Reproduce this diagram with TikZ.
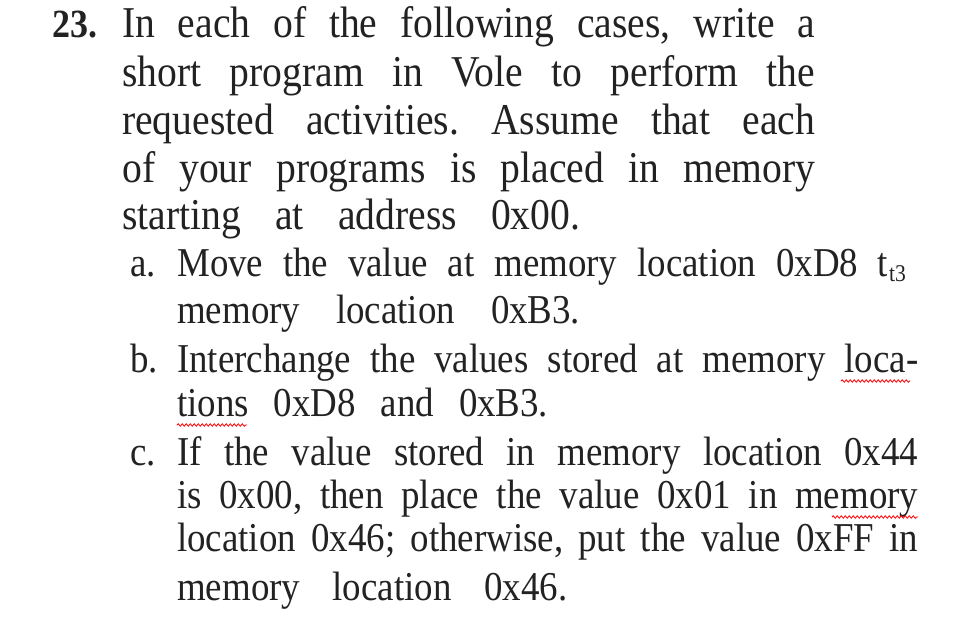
\documentclass[tikz,border=0pt]{standalone}
\usepackage{fontspec}
\setmainfont{Liberation Serif}[FakeStretch=0.9]
\usetikzlibrary{decorations.pathmorphing}
\definecolor{ink}{HTML}{222222}
\tikzset{
  big/.style={anchor=base west,inner sep=0pt,font=\fontsize{44}{46}\selectfont,text=ink},
  sml/.style={anchor=base west,inner sep=0pt,font=\fontsize{41}{42}\selectfont,text=ink},
  squig/.style={draw=red,line width=0.8pt,decorate,decoration={snake,amplitude=1.2pt,segment length=4pt}}
}
\newcommand{\jl}[2]{\makebox[#1pt][s]{\frenchspacing #2}}
\begin{document}
\begin{tikzpicture}[x=1pt,y=-1pt]
\useasboundingbox[fill=white] (0,0) rectangle (954,626);
\node[big,font=\fontsize{40}{40}\selectfont\bfseries] (n) at (52,38) {23.};
\node[big] (l1) at (122,38) {\jl{693}{In each of the following cases, write a}};
\node[big] (l2) at (122,87) {\jl{693}{short program in Vole to perform the}};
\node[big] (l3) at (122,134) {\jl{693}{requested activities. Assume that each}};
\node[big] (l4) at (122,182) {\jl{693}{of your programs is placed in memory}};
\node[big] (l5) at (122,229) {\jl{458}{starting at address 0x00.}};
\node[sml] (a) at (130,276) {a.};
\node[sml] (a1) at (177,276) {\jl{711}{Move the value at memory location 0xD8 t}};
\node[sml,font=\fontsize{24}{24}\selectfont] (a1s) at (889,281) {t3};
\node[sml] (a2) at (177,323) {\jl{403}{memory location 0xB3.}};
\node[sml] (b) at (130,372) {b.};
\node[sml] (b1) at (177,372) {\jl{741}{Interchange the values stored at memory loca-}};
\node[sml] (b2) at (177,416) {\jl{371}{tions 0xD8 and 0xB3.}};
\node[sml] (c) at (130,465) {c.};
\node[sml] (c1) at (177,465) {\jl{741}{If the value stored in memory location 0x44}};
\node[sml] (c2) at (177,508) {\jl{741}{is 0x00, then place the value 0x01 in memory}};
\node[sml] (c3) at (177,551) {\jl{741}{location 0x46; otherwise, put the value 0xFF in}};
\node[sml] (c4) at (177,600) {\jl{390}{memory location 0x46.}};
\draw[squig] (841,381) -- (910,381);
\draw[squig] (177,425) -- (247,425);
\draw[squig] (832,517) -- (918,517);
\end{tikzpicture}
\end{document}
